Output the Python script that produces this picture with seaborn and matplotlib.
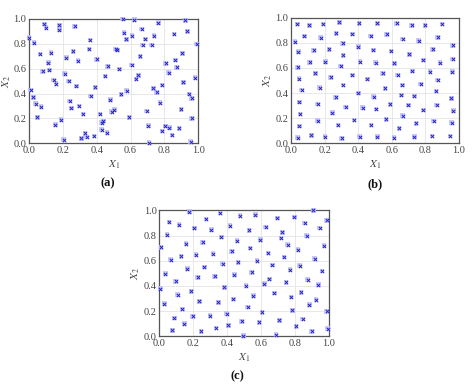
import matplotlib
matplotlib.use("Agg")
import matplotlib.pyplot as plt
import seaborn as sns
import numpy as np

# ---------------- data ----------------
a_x = [0.0, 0.03, 0.09, 0.10, 0.18, 0.18, 0.27, 0.065, 0.13, 0.115, 0.08, 0.12, 0.22, 0.26, 0.29,
       0.36, 0.355, 0.40, 0.465, 0.145, 0.16, 0.21, 0.235, 0.28, 0.45, 0.01, 0.025, 0.04, 0.07, 0.05,
       0.24, 0.25, 0.295, 0.365, 0.39, 0.19, 0.155, 0.32, 0.42, 0.43, 0.44, 0.43, 0.46, 0.33, 0.34,
       0.31, 0.385, 0.205, 0.48,
       0.553, 0.622, 0.764, 0.923, 0.935, 0.665, 0.561, 0.608, 0.687, 0.738, 0.856, 0.575, 0.672,
       0.725, 0.99, 0.512, 0.522, 0.656, 0.906, 0.807, 0.864, 0.533, 0.607, 0.825, 0.872, 0.646,
       0.632, 0.98, 0.911, 0.734, 0.754, 0.786, 0.577, 0.543, 0.945, 0.961, 0.774, 0.504, 0.488,
       0.695, 0.898, 0.59, 0.961, 0.705, 0.805, 0.829, 0.886, 0.786, 0.845, 0.709, 0.955]
a_y = [0.85, 0.81, 0.96, 0.93, 0.95, 0.91, 0.94, 0.72, 0.73, 0.65, 0.58, 0.59, 0.69, 0.74, 0.665,
       0.83, 0.76, 0.675, 0.62, 0.51, 0.48, 0.56, 0.50, 0.46, 0.54, 0.43, 0.37, 0.32, 0.295, 0.21,
       0.34, 0.285, 0.30, 0.38, 0.45, 0.19, 0.15, 0.235, 0.235, 0.165, 0.18, 0.11, 0.085, 0.08, 0.05,
       0.04, 0.06, 0.03, 0.35,
       1.0, 0.995, 0.97, 0.99, 0.90, 0.92, 0.89, 0.866, 0.84, 0.866, 0.88, 0.836, 0.79,
       0.79, 0.80, 0.76, 0.75, 0.70, 0.724, 0.643, 0.67, 0.598, 0.63, 0.568, 0.611, 0.547,
       0.517, 0.528, 0.49, 0.442, 0.41, 0.469, 0.424, 0.394, 0.397, 0.362, 0.327, 0.27, 0.255,
       0.26, 0.273, 0.21, 0.20, 0.142, 0.139, 0.126, 0.12, 0.10, 0.067, 0.005, 0.013]

b_x = [0.038, 0.109, 0.19, 0.288, 0.405, 0.024, 0.079, 0.177, 0.268, 0.365, 0.044, 0.135, 0.226,
       0.308, 0.40, 0.111, 0.204, 0.31, 0.04, 0.296, 0.41, 0.145, 0.236, 0.365, 0.048, 0.31, 0.17,
       0.064, 0.40, 0.266, 0.05, 0.159, 0.325, 0.427, 0.054, 0.246, 0.159, 0.375, 0.05, 0.28, 0.04,
       0.121, 0.202, 0.302, 0.409,
       0.514, 0.629, 0.718, 0.798, 0.899, 0.474, 0.57, 0.665, 0.76, 0.873, 0.962, 0.49, 0.595,
       0.704, 0.843, 0.962, 0.504, 0.615, 0.788, 0.887, 0.546, 0.635, 0.722, 0.827, 0.96, 0.454,
       0.663, 0.772, 0.873, 0.56, 0.863, 0.492, 0.657, 0.734, 0.954, 0.506, 0.589, 0.698, 0.867,
       0.788, 0.966, 0.665, 0.565, 0.849, 0.476, 0.744, 0.956, 0.643, 0.514, 0.613, 0.734, 0.839,
       0.946]
b_y = [0.95, 0.94, 0.95, 0.963, 0.955, 0.81, 0.854, 0.84, 0.875, 0.87, 0.73, 0.74, 0.748,
       0.796, 0.77, 0.645, 0.65, 0.70, 0.605, 0.615, 0.65, 0.557, 0.525, 0.544, 0.515, 0.464, 0.443,
       0.424, 0.40, 0.366, 0.33, 0.313, 0.29, 0.284, 0.233, 0.244, 0.18, 0.186, 0.138, 0.146, 0.045,
       0.064, 0.053, 0.04, 0.053,
       0.955, 0.955, 0.94, 0.94, 0.95, 0.854, 0.867, 0.83, 0.817, 0.843, 0.78, 0.743, 0.735,
       0.708, 0.748, 0.67, 0.642, 0.637, 0.663, 0.642, 0.557, 0.544, 0.576, 0.57, 0.57, 0.512,
       0.464, 0.472, 0.504, 0.438, 0.416, 0.371, 0.385, 0.377, 0.358, 0.273, 0.31, 0.305, 0.305,
       0.265, 0.26, 0.22, 0.19, 0.178, 0.146, 0.159, 0.164, 0.119, 0.053, 0.045, 0.053, 0.058,
       0.058]

c_x = [0.177, 0.358, 0.057, 0.116, 0.275, 0.206, 0.306, 0.417, 0.045, 0.365, 0.01, 0.157, 0.256,
       0.427, 0.128, 0.216, 0.316, 0.067, 0.374, 0.165, 0.265, 0.035, 0.226, 0.326, 0.442, 0.097,
       0.006, 0.187, 0.383, 0.108, 0.236, 0.348, 0.436, 0.03, 0.136, 0.397, 0.088, 0.197, 0.299,
       0.147, 0.407, 0.077, 0.246, 0.334,
       0.907, 0.476, 0.566, 0.695, 0.796, 0.986, 0.627, 0.857, 0.529, 0.725, 0.945, 0.869, 0.717,
       0.458, 0.595, 0.757, 0.97, 0.534, 0.64, 0.817, 0.735, 0.916, 0.576, 0.464, 0.666, 0.827,
       0.77, 0.959, 0.545, 0.648, 0.619, 0.747, 0.874, 0.511, 0.937, 0.835, 0.678, 0.554, 0.776,
       0.884, 0.521, 0.784, 0.986, 0.605, 0.923, 0.845, 0.486, 0.588, 0.707, 0.806, 0.992, 0.495,
       0.688, 0.898]
c_y = [0.99, 0.98, 0.907, 0.886, 0.93, 0.86, 0.847, 0.878, 0.807, 0.788, 0.706, 0.735, 0.746,
       0.675, 0.635, 0.648, 0.656, 0.608, 0.577, 0.537, 0.55, 0.497, 0.468, 0.476, 0.49, 0.437,
       0.378, 0.357, 0.389, 0.33, 0.278, 0.27, 0.296, 0.26, 0.217, 0.18, 0.146, 0.159, 0.164,
       0.10, 0.087, 0.048, 0.04, 0.066,
       1.0, 0.958, 0.966, 0.94, 0.947, 0.92, 0.868, 0.90, 0.841, 0.825, 0.86, 0.799, 0.78,
       0.759, 0.767, 0.728, 0.72, 0.70, 0.661, 0.688, 0.63, 0.616, 0.60, 0.587, 0.566, 0.561,
       0.529, 0.518, 0.508, 0.455, 0.418, 0.429, 0.45, 0.402, 0.41, 0.349, 0.344, 0.323, 0.312,
       0.251, 0.233, 0.206, 0.198, 0.19, 0.29, 0.138, 0.119, 0.111, 0.127, 0.079, 0.06, 0.005,
       0.013, 0.04]

tick_values = [0.0, 0.2, 0.4, 0.6, 0.8, 1.0]
tick_labels = ["0.0", "0.2", "0.4", "0.6", "0.8", "1.0"]
panel_labels = ["(a)", "(b)", "(c)"]
x_label = "$X_1$"
y_label = "$X_2$"

# ---------------- style ----------------
sns.set_theme(style="white")
plt.rcParams["font.family"] = ["serif"]
plt.rcParams["font.serif"] = ["Liberation Serif", "DejaVu Serif"]
plt.rcParams["mathtext.fontset"] = "stix"
SERIF = ["Liberation Serif", "DejaVu Serif"]

fig = plt.figure(figsize=(4.74, 3.84), dpi=100)

positions = [
    [29 / 474, 1 - 143.3 / 384, 169.3 / 474, 124.3 / 384],
    [291 / 474, 1 - 143.3 / 384, 168 / 474, 125.6 / 384],
    [159.3 / 474, 1 - 336.3 / 384, 169.7 / 474, 126 / 384],
]
ylabel_x = [-0.095, -0.104, -0.102]
label_pos = [(108 / 474, 1 - 183 / 384), (375 / 474, 1 - 184 / 384), (237 / 474, 1 - 376 / 384)]
data = [(a_x, a_y), (b_x, b_y), (c_x, c_y)]

for i, (pos, (xs, ys)) in enumerate(zip(positions, data)):
    ax = fig.add_axes(pos)
    # faint halo behind the markers
    sns.scatterplot(x=xs, y=ys, ax=ax, marker="s", s=11, color="#c4c4fa",
                    edgecolor="none", linewidth=0, alpha=0.9, clip_on=False, zorder=3)
    sns.scatterplot(x=xs, y=ys, ax=ax, marker="x", s=6, color="#2323c8",
                    linewidth=0.7, clip_on=False, zorder=4)
    ax.set_xlim(0, 1)
    ax.set_ylim(0, 1)
    ax.set_xticks(tick_values)
    ax.set_yticks(tick_values)
    ax.set_xticklabels(tick_labels, family=SERIF)
    ax.set_yticklabels(tick_labels, family=SERIF)
    ax.grid(True, color="#e4e4e4", linewidth=0.6, zorder=0)
    ax.set_axisbelow(True)
    for sp in ax.spines.values():
        sp.set_color("#555555")
        sp.set_linewidth(0.9)
    ax.tick_params(direction="in", length=2.5, width=0.6, colors="#555555",
                   labelsize=7.5, labelcolor="#444444", pad=2)
    ax.set_xlabel(x_label, fontsize=8, color="#444444")
    ax.set_ylabel(y_label, fontsize=8, color="#444444")
    ax.xaxis.set_label_coords(0.5, -0.12)
    ax.yaxis.set_label_coords(ylabel_x[i], 0.5)
    fig.text(label_pos[i][0], label_pos[i][1], panel_labels[i], ha="center", va="center",
             fontsize=9, fontweight="bold", color="#111111", family=SERIF)

fig.savefig("out.png", dpi=100)
